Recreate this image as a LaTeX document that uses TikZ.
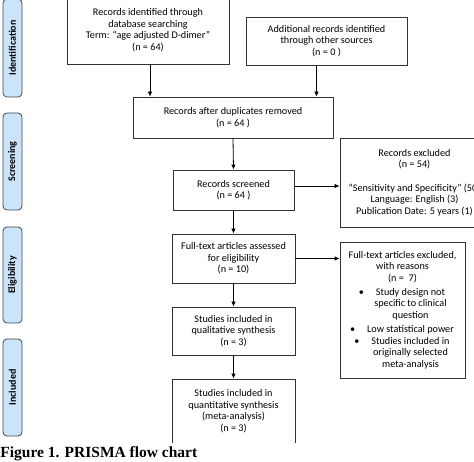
\documentclass[tikz,border=0pt]{standalone}
\usepackage{fontspec}
\setmainfont{Carlito}
\newfontfamily\capfont{Liberation Serif}
\usetikzlibrary{arrows.meta}
\definecolor{phasefill}{HTML}{CCE4FA}
\definecolor{phasedraw}{HTML}{3C4A58}
\newcommand{\bulitem}{\hspace*{16pt}\llap{\textbullet\hspace{12pt}}}
\newcommand{\bulcont}{\hspace*{16pt}}

\begin{document}
\begin{tikzpicture}[x=1pt,y=-1pt,line width=0.8pt,
	font=\fontsize{10.2}{11.6}\selectfont,
	box/.style={draw=black!80,inner sep=0pt,align=center},
	phase/.style={draw=phasedraw,fill=phasefill,rounded corners=4pt,rotate=90,
		minimum height=19pt,inner sep=0pt,font=\fontsize{10}{11}\selectfont\bfseries},
	arr/.style={-{Latex[length=5pt,width=4.5pt]}}]
	%frame
	\useasboundingbox (0,0) rectangle (474,462);
	\clip (0,0) rectangle (474,462);

	%phase labels
	\node[phase,minimum width=98pt] (ident) at (12.5,48) {Identification};
	\node[phase,minimum width=97pt] (screen) at (12.5,161.5) {Screening};
	\node[phase,minimum width=96pt] (elig) at (12.5,275) {Eligibility};
	\node[phase,minimum width=97pt] (incl) at (12.5,387.5) {Included};

	%boxes
	\node[box,minimum width=162pt,minimum height=68pt] (dbsearch) at (148,30)
		{Records identified through\\database searching\\Term: “age adjusted D-dimer”\\(n = 64)};
	\node[box,minimum width=161pt,minimum height=48pt] (other) at (326.5,41)
		{Additional records identified\\through other sources\\(n = 0 )};
	\node[box,minimum width=200pt,minimum height=41pt] (dedup) at (233,117.5)
		{Records after duplicates removed\\(n = 64 )};
	\node[box,minimum width=121pt,minimum height=40pt] (screened) at (233.5,190)
		{Records screened\\(n = 64 )};
	\node[box,minimum width=149pt,minimum height=89pt] (excluded) at (414.5,182.5)
		{Records excluded\\(n = 54)\\[11.6pt]“Sensitivity and Specificity” (50)\\Language: English (3)\\Publication Date: 5 years (1)};
	\node[box,minimum width=123pt,minimum height=49pt] (fulltext) at (233.5,258.5)
		{Full-text articles assessed\\for eligibility\\(n = 10)};
	\node[box,minimum width=125pt,minimum height=136pt] (ftexcl) at (402.5,310)
		{Full-text articles excluded,\\with reasons\\(n =~~7)\\[2.5pt]
		\bulitem Study design not\\\bulcont specific to clinical\\\bulcont question\\[2.5pt]
		\bulitem Low statistical power\\
		\bulitem Studies included in\\\bulcont originally selected\\\bulcont meta-analysis};
	\node[box,minimum width=123pt,minimum height=48pt] (qual) at (233.5,331)
		{Studies included in\\qualitative synthesis\\(n = 3)};
	\node[box,minimum width=123pt,minimum height=64pt] (quant) at (233.5,411)
		{Studies included in\\quantitative synthesis\\(meta-analysis)\\(n = 3)};

	%arrows
	\draw[arr] ([xshift=2pt]dbsearch.south) -- ([xshift=2pt]dbsearch.south |- dedup.north);
	\draw[arr] ([xshift=-10pt]other.south) -- ([xshift=-10pt]other.south |- dedup.north);
	\draw[arr] (dedup.south) -- (screened.north);
	\draw[arr] ([yshift=4pt]screened.east) -- ([yshift=4pt]screened.east -| excluded.west);
	\draw[arr] (screened.south) -- (fulltext.north);
	\draw[arr] (fulltext.east) -- (fulltext.east -| ftexcl.west);
	\draw[arr] (fulltext.south) -- (qual.north);
	\draw[arr] (qual.south) -- (quant.north);

	%caption
	\fill[white] (0,442.5) rectangle (474,462);
	\node[anchor=base west,inner sep=0pt,font=\capfont\bfseries\fontsize{15.5}{17}\selectfont] (caption) at (0,457.5) {Figure 1. PRISMA flow chart};
\end{tikzpicture}
\end{document}
